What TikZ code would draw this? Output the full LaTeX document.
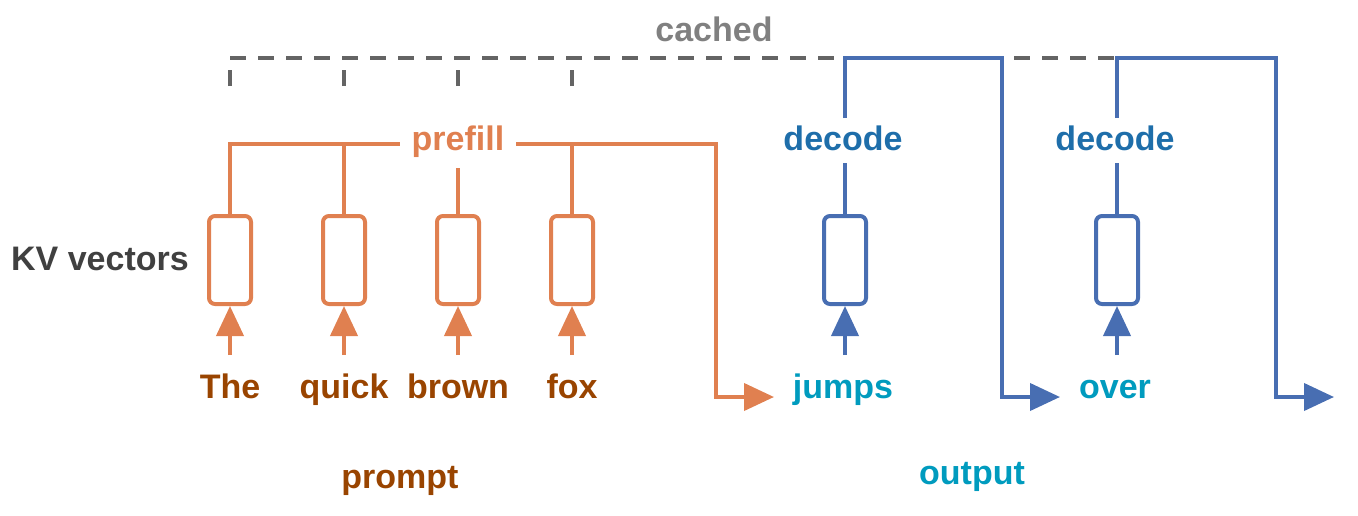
\documentclass[tikz,border=0pt]{standalone}
\usepackage{fontspec}
\setmainfont{Liberation Sans}
\usetikzlibrary{arrows.meta, positioning}
\definecolor{kvorange}{RGB}{224,128,80}
\definecolor{kvbrown}{RGB}{153,68,0}
\definecolor{kvblue}{RGB}{72,110,178}
\definecolor{kvdecode}{RGB}{30,110,170}
\definecolor{kvcyan}{RGB}{0,155,190}
\definecolor{kvgray}{RGB}{100,100,100}
\tikzset{
  kvbox/.style={draw, line width=4pt, rounded corners=6pt, minimum width=42pt, minimum height=88pt, inner sep=0pt},
  tok/.style={font=\bfseries\fontsize{34}{38}\selectfont, inner sep=0pt, anchor=base},
  wire/.style={line width=4pt},
  tip/.style={-{Triangle[length=30pt,width=27pt]}},
}
\begin{document}
\begin{tikzpicture}[x=1pt, y=-1pt]
    \useasboundingbox (0,0) rectangle (1358,515);
    %cache line
    \node[tok, text=gray] (cached) at (714,41) {cached};
    \coordinate (c1) at (230,86);
    \coordinate (c2) at (344,86);
    \coordinate (c3) at (458,86);
    \coordinate (c4) at (572,86);
    \coordinate (cend) at (1117,58);
    \draw[kvgray, line width=4pt, dash pattern=on 16pt off 12pt] (c1) |- (cend);
    \foreach \c in {c2,c3,c4}
      \draw[kvgray, line width=4pt, dash pattern=on 16pt off 12pt] (\c) -- ++(0,-28);
    %prompt
    \node[tok, text=kvorange, inner xsep=12pt] (prefill) at (458,150) {prefill};
    \foreach \x/\w/\n in {230/The/a, 344/quick/b, 458/brown/c, 572/fox/d} {
      \node[kvbox, kvorange] (box\n) at (\x,260) {};
      \node[tok, text=kvbrown] (w\n) at (\x,398) {\w};
      \draw[wire, kvorange, tip] (\x,355) -- (box\n.south);
    }
    \coordinate (pm) at (458,144);
    \draw[wire, kvorange] (boxa.north) |- (prefill.west |- pm);
    \draw[wire, kvorange] (boxb.north) -- (boxb.north |- pm);
    \draw[wire, kvorange] (boxc.north) -- ++(0,-46);
    \coordinate (pj) at (716,397);
    \draw[wire, kvorange, tip] (prefill.east |- pm) -| (boxd.north) (boxd |- pm) -| (pj) -- ++(58,0);
    \node[tok, text=kvbrown] (prompt) at (400,488) {prompt};
    \node[tok, text=black!75] (kv) at (100,270) {KV vectors};
    %output
    \foreach \x/\w/\n/\r in {845/jumps/e/1002, 1117/over/f/1276} {
      \node[kvbox, kvblue] (box\n) at (\x,260) {};
      \node[tok, text=kvcyan] (w\n) at (\x-2,398) {\w};
      \node[tok, text=kvdecode] (dec\n) at (\x-2,150) {decode};
      \draw[wire, kvblue, tip] (\x,355) -- (box\n.south);
      \draw[wire, kvblue] (box\n.north) -- (\x,163);
      \draw[wire, kvblue, tip] (\x,118) |- (\r,58) |- ++(58,339);
    }
    \node[tok, text=kvcyan] (output) at (972,484) {output};
\end{tikzpicture}
\end{document}
